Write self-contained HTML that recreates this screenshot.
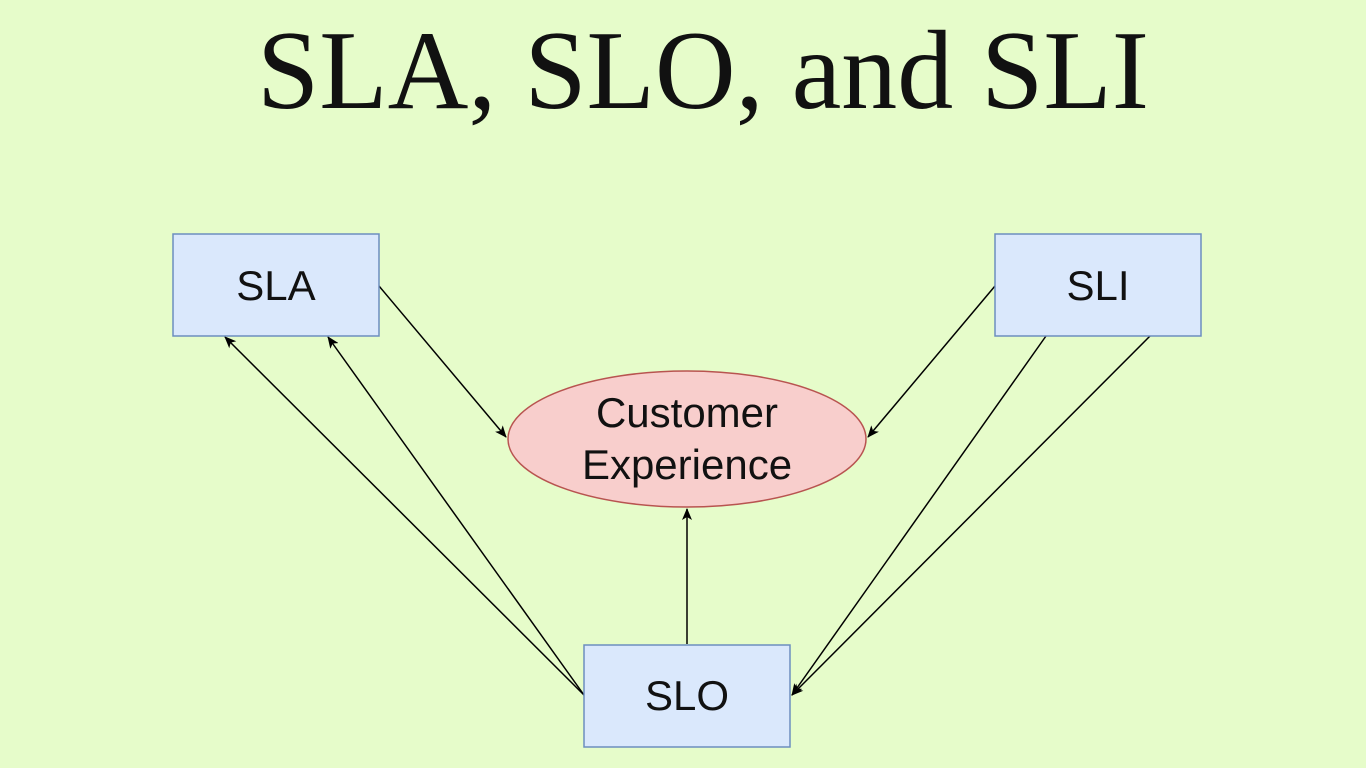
<!DOCTYPE html>
<html><head><style>
html,body{margin:0;padding:0;background:#e6fcca;}
svg{display:block;}
</style></head><body>
<svg width="1366" height="768" viewBox="0 0 1366 768" xmlns="http://www.w3.org/2000/svg">
<defs>
<marker id="a" markerWidth="12" markerHeight="10" refX="11" refY="5" orient="auto" markerUnits="userSpaceOnUse">
<path d="M0,0 L12,5 L0,10 L3,5 Z" fill="#000"/>
</marker>
</defs>
<rect width="1366" height="768" fill="#e6fcca"/>
<text x="703" y="108" font-family="Liberation Serif, serif" font-size="112" text-anchor="middle" fill="#111" textLength="892" lengthAdjust="spacingAndGlyphs">SLA, SLO, and SLI</text>
<g stroke="#000" stroke-width="1.5" fill="none" marker-end="url(#a)">
<line x1="379" y1="286" x2="506" y2="437"/>
<line x1="995" y1="286" x2="868" y2="437"/>
<line x1="687" y1="644" x2="687" y2="509"/>
<line x1="584" y1="695" x2="225" y2="337"/>
<line x1="584" y1="695" x2="328" y2="337"/>
<line x1="1046" y1="336" x2="792" y2="695"/>
<line x1="1150" y1="336" x2="792" y2="695"/>
</g>
<g fill="#dae8fc" stroke="#6c8ebf" stroke-width="1.5">
<rect x="173" y="234" width="206" height="102"/>
<rect x="995" y="234" width="206" height="102"/>
<rect x="584" y="645" width="206" height="102"/>
</g>
<ellipse cx="687" cy="439" rx="179" ry="68" fill="#f8cecc" stroke="#b85450" stroke-width="1.5"/>
<g font-family="Liberation Sans, sans-serif" font-size="42" text-anchor="middle" fill="#111">
<text x="276" y="300">SLA</text>
<text x="1098" y="300">SLI</text>
<text x="687" y="710">SLO</text>
<text x="687" y="427">Customer</text>
<text x="687" y="479">Experience</text>
</g>
</svg>
</body></html>
